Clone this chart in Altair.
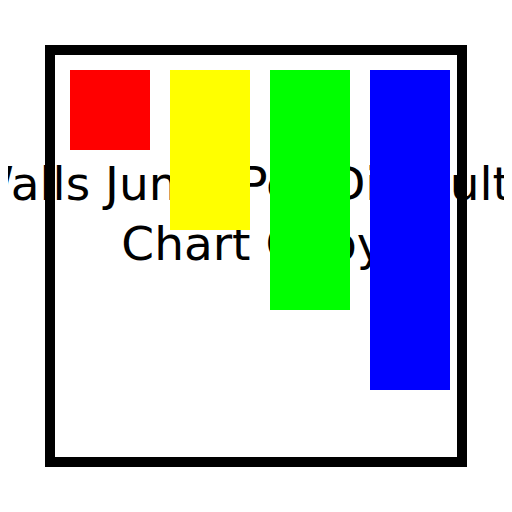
import altair as alt
import pandas as pd

categories = ["red", "yellow", "green", "blue"]
values = [1, 2, 3, 4]
colors = ["#ff0000", "#ffff00", "#00ff00", "#0000ff"]
title_lines = ["Walls Jump Per Difficulty", "Chart Copy"]

bars_df = pd.DataFrame({"cat": categories, "value": values})
text_df = pd.DataFrame({"label": [title_lines]})

W, H = 496, 470

text = alt.Chart(text_df).mark_text(
    font="DejaVu Sans", fontSize=47, lineHeight=60, baseline="alphabetic",
    align="center", color="black"
).encode(x=alt.value(245), y=alt.value(192), text="label:N")

bars = alt.Chart(bars_df).mark_bar().encode(
    x=alt.X("cat:N", sort=categories, axis=None,
            scale=alt.Scale(range=[62, 442], paddingInner=0.2, paddingOuter=0)),
    y=alt.Y("value:Q", axis=None, scale=alt.Scale(domain=[0, 4], range=[62, 382])),
    color=alt.Color("cat:N", legend=None,
                    scale=alt.Scale(domain=categories, range=colors)),
)

border = alt.Chart(bars_df).mark_rect(
    fill=None, stroke="black", strokeWidth=10, fillOpacity=0
).encode(x=alt.value(42), x2=alt.value(454), y=alt.value(42), y2=alt.value(454))

chart = alt.layer(text, bars, border).properties(
    width=W, height=H, autosize="none", padding=0, background="white"
).configure_view(stroke=None)

chart.save("out.html", embed_options={"renderer": "svg", "actions": False})
